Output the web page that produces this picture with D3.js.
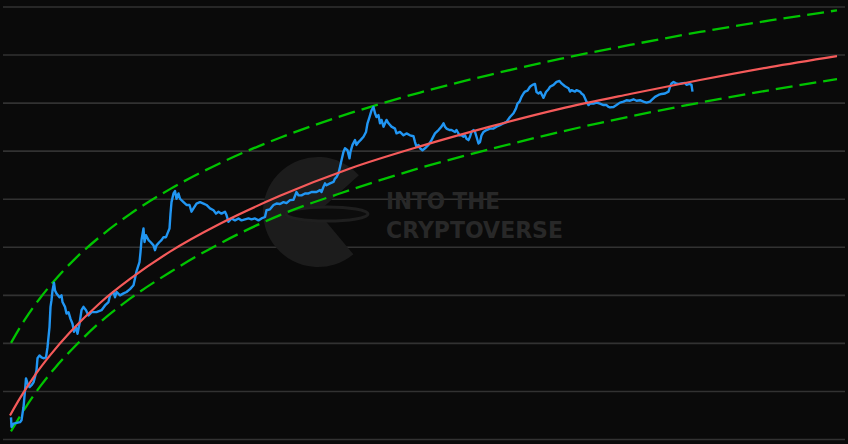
<!DOCTYPE html>
<html>
<head>
<meta charset="utf-8">
<script src="https://cdn.jsdelivr.net/npm/d3@7"></script>
<style>
  body { margin: 0; background: #0a0a0a; }
  svg { display: block; }
</style>
</head>
<body>
<svg id="chart"></svg>
<script>
// log-price units (one grid step = one unit), x in decimal years
var gridValues = [0, 1, 2, 3, 4, 5, 6, 7, 8, 9];

var btcPrice = [
  [2010.57,0.46],[2010.58,0.26],[2010.62,0.33],[2010.75,0.36],[2010.78,0.40],[2010.80,0.54],[2010.82,0.67],
  [2010.85,1.02],[2010.87,1.27],[2010.90,1.17],[2010.94,1.09],[2010.98,1.13],[2011.02,1.19],[2011.05,1.30],
  [2011.08,1.44],[2011.10,1.69],[2011.14,1.75],[2011.18,1.71],[2011.23,1.69],[2011.27,1.71],[2011.30,1.92],
  [2011.34,2.34],[2011.36,2.76],[2011.38,2.90],[2011.40,3.10],[2011.43,3.26],[2011.45,3.10],[2011.48,3.04],
  [2011.54,2.96],[2011.58,3.00],[2011.60,2.86],[2011.65,2.76],[2011.68,2.62],[2011.72,2.65],[2011.76,2.51],
  [2011.80,2.41],[2011.83,2.24],[2011.87,2.34],[2011.90,2.20],[2011.94,2.41],[2011.98,2.69],[2012.02,2.76],
  [2012.07,2.69],[2012.12,2.58],[2012.18,2.65],[2012.28,2.65],[2012.38,2.69],[2012.45,2.79],[2012.52,2.86],
  [2012.55,3.00],[2012.62,3.07],[2012.65,2.96],[2012.68,3.07],[2012.75,3.00],[2012.82,3.04],[2012.88,3.07],
  [2012.95,3.13],[2013.02,3.21],[2013.05,3.35],[2013.08,3.50],[2013.14,3.69],[2013.16,3.90],[2013.18,4.15],
  [2013.22,4.39],[2013.24,4.11],[2013.27,4.25],[2013.32,4.15],[2013.36,4.11],[2013.42,4.04],[2013.45,3.94],
  [2013.48,4.04],[2013.54,4.11],[2013.58,4.15],[2013.62,4.21],[2013.67,4.21],[2013.70,4.29],[2013.74,4.39],
  [2013.76,4.70],[2013.78,4.94],[2013.82,5.12],[2013.85,5.17],[2013.88,5.01],[2013.92,5.12],[2013.95,5.01],
  [2014.02,4.94],[2014.08,4.88],[2014.14,4.88],[2014.18,4.74],[2014.22,4.81],[2014.28,4.91],[2014.35,4.94],
  [2014.42,4.91],[2014.48,4.88],[2014.55,4.81],[2014.62,4.77],[2014.67,4.70],[2014.72,4.74],[2014.78,4.70],
  [2014.85,4.74],[2014.88,4.67],[2014.92,4.53],[2014.98,4.60],[2015.05,4.56],[2015.12,4.60],[2015.18,4.56],
  [2015.25,4.58],[2015.32,4.60],[2015.38,4.58],[2015.45,4.60],[2015.52,4.56],[2015.58,4.60],[2015.65,4.63],
  [2015.68,4.77],[2015.75,4.79],[2015.82,4.88],[2015.88,4.91],[2015.95,4.90],[2016.02,4.94],[2016.08,4.92],
  [2016.15,4.98],[2016.22,4.99],[2016.28,5.15],[2016.32,5.08],[2016.38,5.08],[2016.45,5.12],[2016.52,5.12],
  [2016.58,5.15],[2016.68,5.15],[2016.75,5.19],[2016.78,5.15],[2016.82,5.26],[2016.85,5.33],[2016.88,5.29],
  [2016.95,5.33],[2017.02,5.36],[2017.05,5.43],[2017.08,5.46],[2017.12,5.54],[2017.15,5.67],[2017.18,5.81],
  [2017.22,5.99],[2017.25,6.06],[2017.30,6.02],[2017.34,5.85],[2017.36,5.99],[2017.40,6.13],[2017.45,6.23],
  [2017.48,6.13],[2017.52,6.19],[2017.56,6.23],[2017.62,6.30],[2017.67,6.40],[2017.70,6.58],[2017.74,6.71],
  [2017.78,6.85],[2017.82,6.92],[2017.85,6.79],[2017.88,6.71],[2017.92,6.75],[2017.95,6.58],[2017.98,6.65],
  [2018.02,6.51],[2018.08,6.65],[2018.12,6.58],[2018.18,6.51],[2018.25,6.47],[2018.28,6.37],[2018.35,6.40],
  [2018.42,6.33],[2018.48,6.37],[2018.55,6.33],[2018.62,6.31],[2018.65,6.19],[2018.68,6.09],[2018.72,6.13],
  [2018.75,6.06],[2018.80,6.02],[2018.85,6.06],[2018.92,6.13],[2018.98,6.23],[2019.05,6.37],[2019.12,6.44],
  [2019.18,6.51],[2019.22,6.58],[2019.25,6.51],[2019.28,6.47],[2019.34,6.44],[2019.38,6.44],[2019.45,6.40],
  [2019.48,6.44],[2019.54,6.33],[2019.58,6.33],[2019.62,6.30],[2019.65,6.33],[2019.68,6.26],[2019.72,6.23],
  [2019.75,6.30],[2019.78,6.40],[2019.82,6.44],[2019.85,6.40],[2019.88,6.30],[2019.92,6.16],[2019.95,6.19],
  [2019.98,6.33],[2020.02,6.40],[2020.08,6.44],[2020.15,6.47],[2020.22,6.47],[2020.28,6.51],[2020.35,6.54],
  [2020.42,6.58],[2020.48,6.61],[2020.55,6.71],[2020.62,6.79],[2020.67,6.89],[2020.70,6.99],[2020.74,7.03],
  [2020.78,7.13],[2020.82,7.20],[2020.85,7.24],[2020.90,7.26],[2020.95,7.34],[2021.00,7.38],[2021.05,7.40],
  [2021.08,7.23],[2021.12,7.20],[2021.16,7.23],[2021.22,7.11],[2021.27,7.23],[2021.32,7.29],[2021.35,7.34],
  [2021.42,7.38],[2021.48,7.44],[2021.54,7.46],[2021.58,7.41],[2021.65,7.35],[2021.72,7.31],[2021.75,7.24],
  [2021.78,7.27],[2021.85,7.24],[2021.88,7.27],[2021.95,7.24],[2021.98,7.20],[2022.02,7.17],[2022.05,7.10],
  [2022.08,7.03],[2022.12,6.96],[2022.15,6.99],[2022.22,6.99],[2022.28,7.01],[2022.35,6.99],[2022.42,6.96],
  [2022.48,6.96],[2022.52,6.92],[2022.55,6.91],[2022.62,6.92],[2022.68,6.96],[2022.75,7.01],[2022.82,7.03],
  [2022.88,7.06],[2022.95,7.05],[2023.02,7.08],[2023.08,7.05],[2023.15,7.06],[2023.22,7.03],[2023.28,7.01],
  [2023.35,7.03],[2023.38,7.06],[2023.45,7.13],[2023.52,7.17],[2023.58,7.19],[2023.65,7.20],[2023.72,7.24],
  [2023.75,7.34],[2023.78,7.41],[2023.82,7.44],[2023.87,7.41],[2023.92,7.40],[2023.98,7.41],[2024.05,7.42],
  [2024.08,7.38],[2024.14,7.40],[2024.18,7.38],[2024.20,7.24]
];

// log regression fit and its bands
var regression = [
  [2010.55,0.50],[2010.75,0.86],[2011.05,1.34],[2011.35,1.75],[2011.75,2.23],[2012.35,2.84],
  [2012.95,3.34],[2013.75,3.91],[2014.75,4.49],[2015.95,5.07],[2017.35,5.64],[2018.75,6.10],
  [2020.15,6.51],[2021.55,6.88],[2022.95,7.19],[2024.35,7.48],[2025.75,7.75],[2027.09,7.98]
];
var upperBand = [
  [2010.57,2.01],[2010.85,2.50],[2011.15,2.94],[2011.45,3.32],[2011.85,3.76],[2012.35,4.22],
  [2012.95,4.69],[2013.75,5.21],[2014.75,5.75],[2015.95,6.28],[2017.35,6.79],[2018.75,7.22],
  [2020.15,7.59],[2021.55,7.92],[2022.95,8.21],[2024.35,8.48],[2025.75,8.72],[2027.09,8.93]
];
var lowerBand = [
  [2010.57,0.17],[2010.85,0.65],[2011.15,1.10],[2011.45,1.49],[2011.85,1.94],[2012.35,2.44],
  [2012.95,2.93],[2013.75,3.48],[2014.75,4.08],[2015.95,4.67],[2017.35,5.19],[2018.75,5.65],
  [2020.15,6.04],[2021.55,6.40],[2022.95,6.72],[2024.35,7.01],[2025.75,7.27],[2027.09,7.50]
];

var watermarkLines = ["INTO THE", "CRYPTOVERSE"];

var width = 848, height = 444;

var svg = d3.select("#chart")
  .attr("width", width)
  .attr("height", height);

svg.append("rect")
  .attr("width", width)
  .attr("height", height)
  .attr("fill", "#0a0a0a");

var x = d3.scaleLinear()
  .domain([2010.35, 2027.31])
  .range([0, width]);

var y = d3.scaleLinear()
  .domain([0, 9])
  .range([439.5, 7]);

// grid
svg.append("g")
  .selectAll("line")
  .data(gridValues)
  .enter().append("line")
  .attr("x1", 3)
  .attr("x2", 845)
  .attr("y1", function(d) { return y(d); })
  .attr("y2", function(d) { return y(d); })
  .attr("stroke", "#323232")
  .attr("stroke-width", 1.6);

// watermark logo
var logo = svg.append("g")
  .attr("transform", "translate(318,212)");

logo.append("path")
  .attr("d", d3.arc()
    .innerRadius(0)
    .outerRadius(55)
    .startAngle(140 * Math.PI / 180)
    .endAngle(408 * Math.PI / 180)())
  .attr("fill", "#1c1c1c");

logo.append("ellipse")
  .attr("cx", 9)
  .attr("cy", 2)
  .attr("rx", 41)
  .attr("ry", 7)
  .attr("fill", "#0c0c0c")
  .attr("stroke", "#1f1f1f")
  .attr("stroke-width", 3);

svg.append("g")
  .selectAll("text")
  .data(watermarkLines)
  .enter().append("text")
  .attr("x", 386)
  .attr("y", function(d, i) { return 209 + i * 28.5; })
  .attr("textLength", function(d, i) { return i ? 177 : 114; })
  .attr("lengthAdjust", "spacingAndGlyphs")
  .style("font-family", "'DejaVu Sans', sans-serif")
  .style("font-weight", "bold")
  .style("font-size", "23px")
  .style("fill", "#282828")
  .text(function(d) { return d; });

var line = d3.line()
  .x(function(d) { return x(d[0]); })
  .y(function(d) { return y(d[1]); });

var smooth = d3.line()
  .x(function(d) { return x(d[0]); })
  .y(function(d) { return y(d[1]); })
  .curve(d3.curveMonotoneX);

// bands
[upperBand, lowerBand].forEach(function(band) {
  svg.append("path")
    .datum(band)
    .attr("d", smooth)
    .attr("fill", "none")
    .attr("stroke", "#00c400")
    .attr("stroke-width", 2.3)
    .attr("stroke-dasharray", "17,7");
});

// price
svg.append("path")
  .datum(btcPrice)
  .attr("d", line)
  .attr("fill", "none")
  .attr("stroke", "#2196f3")
  .attr("stroke-width", 2.4)
  .attr("stroke-linejoin", "round");

// regression
svg.append("path")
  .datum(regression)
  .attr("d", smooth)
  .attr("fill", "none")
  .attr("stroke", "#f55a5a")
  .attr("stroke-width", 2.2);
</script>
</body>
</html>
